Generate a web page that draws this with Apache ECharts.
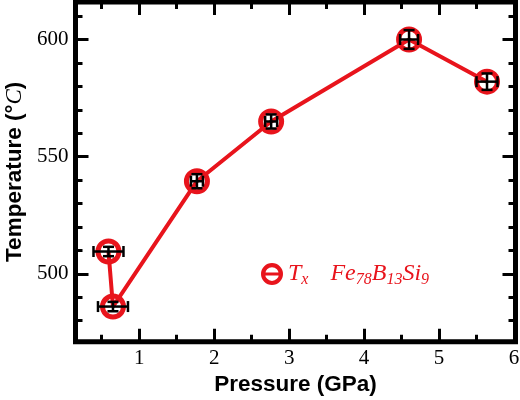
<!DOCTYPE html>
<html>
<head>
<meta charset="utf-8">
<script src="https://cdn.jsdelivr.net/npm/echarts@6/dist/echarts.min.js"></script>
<style>
html,body{margin:0;padding:0;background:#fff;}
#c{width:520px;height:400px;}
</style>
</head>
<body>
<div id="c"></div>
<script>
// Data
const pressure = [0.59, 0.65, 1.77, 2.76, 4.60, 5.64];
const temperature = [509.5, 486, 539.5, 565, 600, 582];
const pressureErr = [0.2, 0.2, 0.08, 0.08, 0.12, 0.14];
const temperatureErr = [2, 2, 3, 3, 4, 3.5];
const xMajorTicks = [1, 2, 3, 4, 5, 6];
const xMinorTicks = [0.5, 1.5, 2.5, 3.5, 4.5, 5.5];
const yMajorTicks = [500, 550, 600];
const yMinorTicks = [480, 490, 510, 520, 530, 540, 560, 570, 580, 590, 610];
const seriesName = 'Tx';

const RED = '#e8141c';
const SERIF = '"Liberation Serif", "DejaVu Serif", serif';
const SANS = '"Liberation Sans", Arial, sans-serif';
const X_MIN = 0.15, X_MAX = 6.02, Y_MIN = 471, Y_MAX = 616;

function xAxisDef(pos, ticks, len, withLabel, withName) {
  return {
    type: 'value', min: X_MIN, max: X_MAX, position: pos,
    axisLine: { show: false },
    splitLine: { show: false },
    axisTick: { show: true, inside: true, length: len, customValues: ticks, lineStyle: { color: '#000', width: 3 } },
    axisLabel: withLabel ? { show: true, customValues: ticks, margin: 6, color: '#000', fontFamily: SERIF, fontSize: 21 } : { show: false },
    name: withName ? 'Pressure (GPa)' : '',
    nameLocation: 'middle', nameGap: 31,
    nameTextStyle: { fontFamily: SANS, fontWeight: 'bold', fontSize: 22.5, color: '#000' }
  };
}
function yAxisDef(pos, ticks, len, withLabel, withName) {
  return {
    type: 'value', min: Y_MIN, max: Y_MAX, position: pos,
    axisLine: { show: false },
    splitLine: { show: false },
    axisTick: { show: true, inside: true, length: len, customValues: ticks, lineStyle: { color: '#000', width: 3 } },
    axisLabel: withLabel ? { show: true, customValues: ticks, margin: 7, color: '#000', fontFamily: SERIF, fontSize: 21 } : { show: false },
    name: withName ? 'Temperature (°{i|C})' : '',
    nameLocation: 'middle', nameGap: 49,
    nameTextStyle: {
      fontFamily: SANS, fontWeight: 'bold', fontSize: 22.5, color: '#000',
      rich: { i: { fontFamily: SERIF, fontStyle: 'italic', fontWeight: 'normal', fontSize: 23, color: '#000' } }
    }
  };
}

const errData = pressure.map((p, i) => [p, temperature[i], pressureErr[i], temperatureErr[i]]);

const chart = echarts.init(document.getElementById('c'));
chart.setOption({
  animation: false,
  backgroundColor: '#fff',
  grid: { left: 75.5, right: 4.5, top: 2, bottom: 58.3, outerBoundsMode: 'none', containLabel: false, show: true, borderColor: '#000', borderWidth: 5, backgroundColor: 'transparent' },
  xAxis: [
    xAxisDef('bottom', xMajorTicks, 13, true, true),
    xAxisDef('bottom', xMinorTicks, 7, false, false),
    xAxisDef('top', xMajorTicks, 13, false, false),
    xAxisDef('top', xMinorTicks, 7, false, false)
  ],
  yAxis: [
    yAxisDef('left', yMajorTicks, 13, true, true),
    yAxisDef('left', yMinorTicks, 7, false, false),
    yAxisDef('right', yMajorTicks, 13, false, false),
    yAxisDef('right', yMinorTicks, 7, false, false)
  ],
  legend: {
    left: 261, top: 262, padding: 0,
    itemWidth: 22, itemHeight: 22,
    data: [{ name: seriesName, icon: 'path://M0,12A12,12,0,1,1,24,12A12,12,0,1,1,0,12Z M4.5,12A7.5,7.5,0,1,0,19.5,12A7.5,7.5,0,1,0,4.5,12Z M4,10.3H20V13.7H4Z' }],
    itemStyle: { color: RED, borderWidth: 0 },
    formatter: function () {
      return '{i|T}{s|x}{sp| }{i|Fe}{s|78}{i|B}{s|13}{i|Si}{s|9}';
    },
    textStyle: {
      rich: {
        i: { fontFamily: SERIF, fontStyle: 'italic', fontSize: 24, color: RED, lineHeight: 28, verticalAlign: 'middle' },
        s: { fontFamily: SERIF, fontStyle: 'italic', fontSize: 16, color: RED, lineHeight: 11, verticalAlign: 'bottom' },
        sp: { fontSize: 24, width: 22, lineHeight: 28 }
      }
    }
  },
  series: [
    {
      name: seriesName,
      type: 'line',
      data: pressure.map((p, i) => [p, temperature[i]]),
      lineStyle: { color: RED, width: 4 },
      symbol: 'circle',
      symbolSize: 21,
      itemStyle: { color: 'rgba(0,0,0,0)', borderColor: RED, borderWidth: 5 },
      z: 2
    },
    {
      name: 'err',
      type: 'custom',
      data: errData,
      encode: { x: 0, y: 1 },
      z: 3,
      renderItem: function (params, api) {
        const x = api.value(0), y = api.value(1), dx = api.value(2), dy = api.value(3);
        const l = api.coord([x - dx, y]), r = api.coord([x + dx, y]);
        const t = api.coord([x, y + dy]), b = api.coord([x, y - dy]);
        const cap = 5.5;
        const st = { stroke: '#000', lineWidth: 2.5, fill: null };
        return {
          type: 'group',
          children: [
            { type: 'line', shape: { x1: l[0], y1: l[1], x2: r[0], y2: r[1] }, style: st },
            { type: 'line', shape: { x1: l[0], y1: l[1] - cap, x2: l[0], y2: l[1] + cap }, style: st },
            { type: 'line', shape: { x1: r[0], y1: r[1] - cap, x2: r[0], y2: r[1] + cap }, style: st },
            { type: 'line', shape: { x1: t[0], y1: t[1], x2: b[0], y2: b[1] }, style: st },
            { type: 'line', shape: { x1: t[0] - cap, y1: t[1], x2: t[0] + cap, y2: t[1] }, style: st },
            { type: 'line', shape: { x1: b[0] - cap, y1: b[1], x2: b[0] + cap, y2: b[1] }, style: st }
          ]
        };
      }
    }
  ]
});
</script>
</body>
</html>
